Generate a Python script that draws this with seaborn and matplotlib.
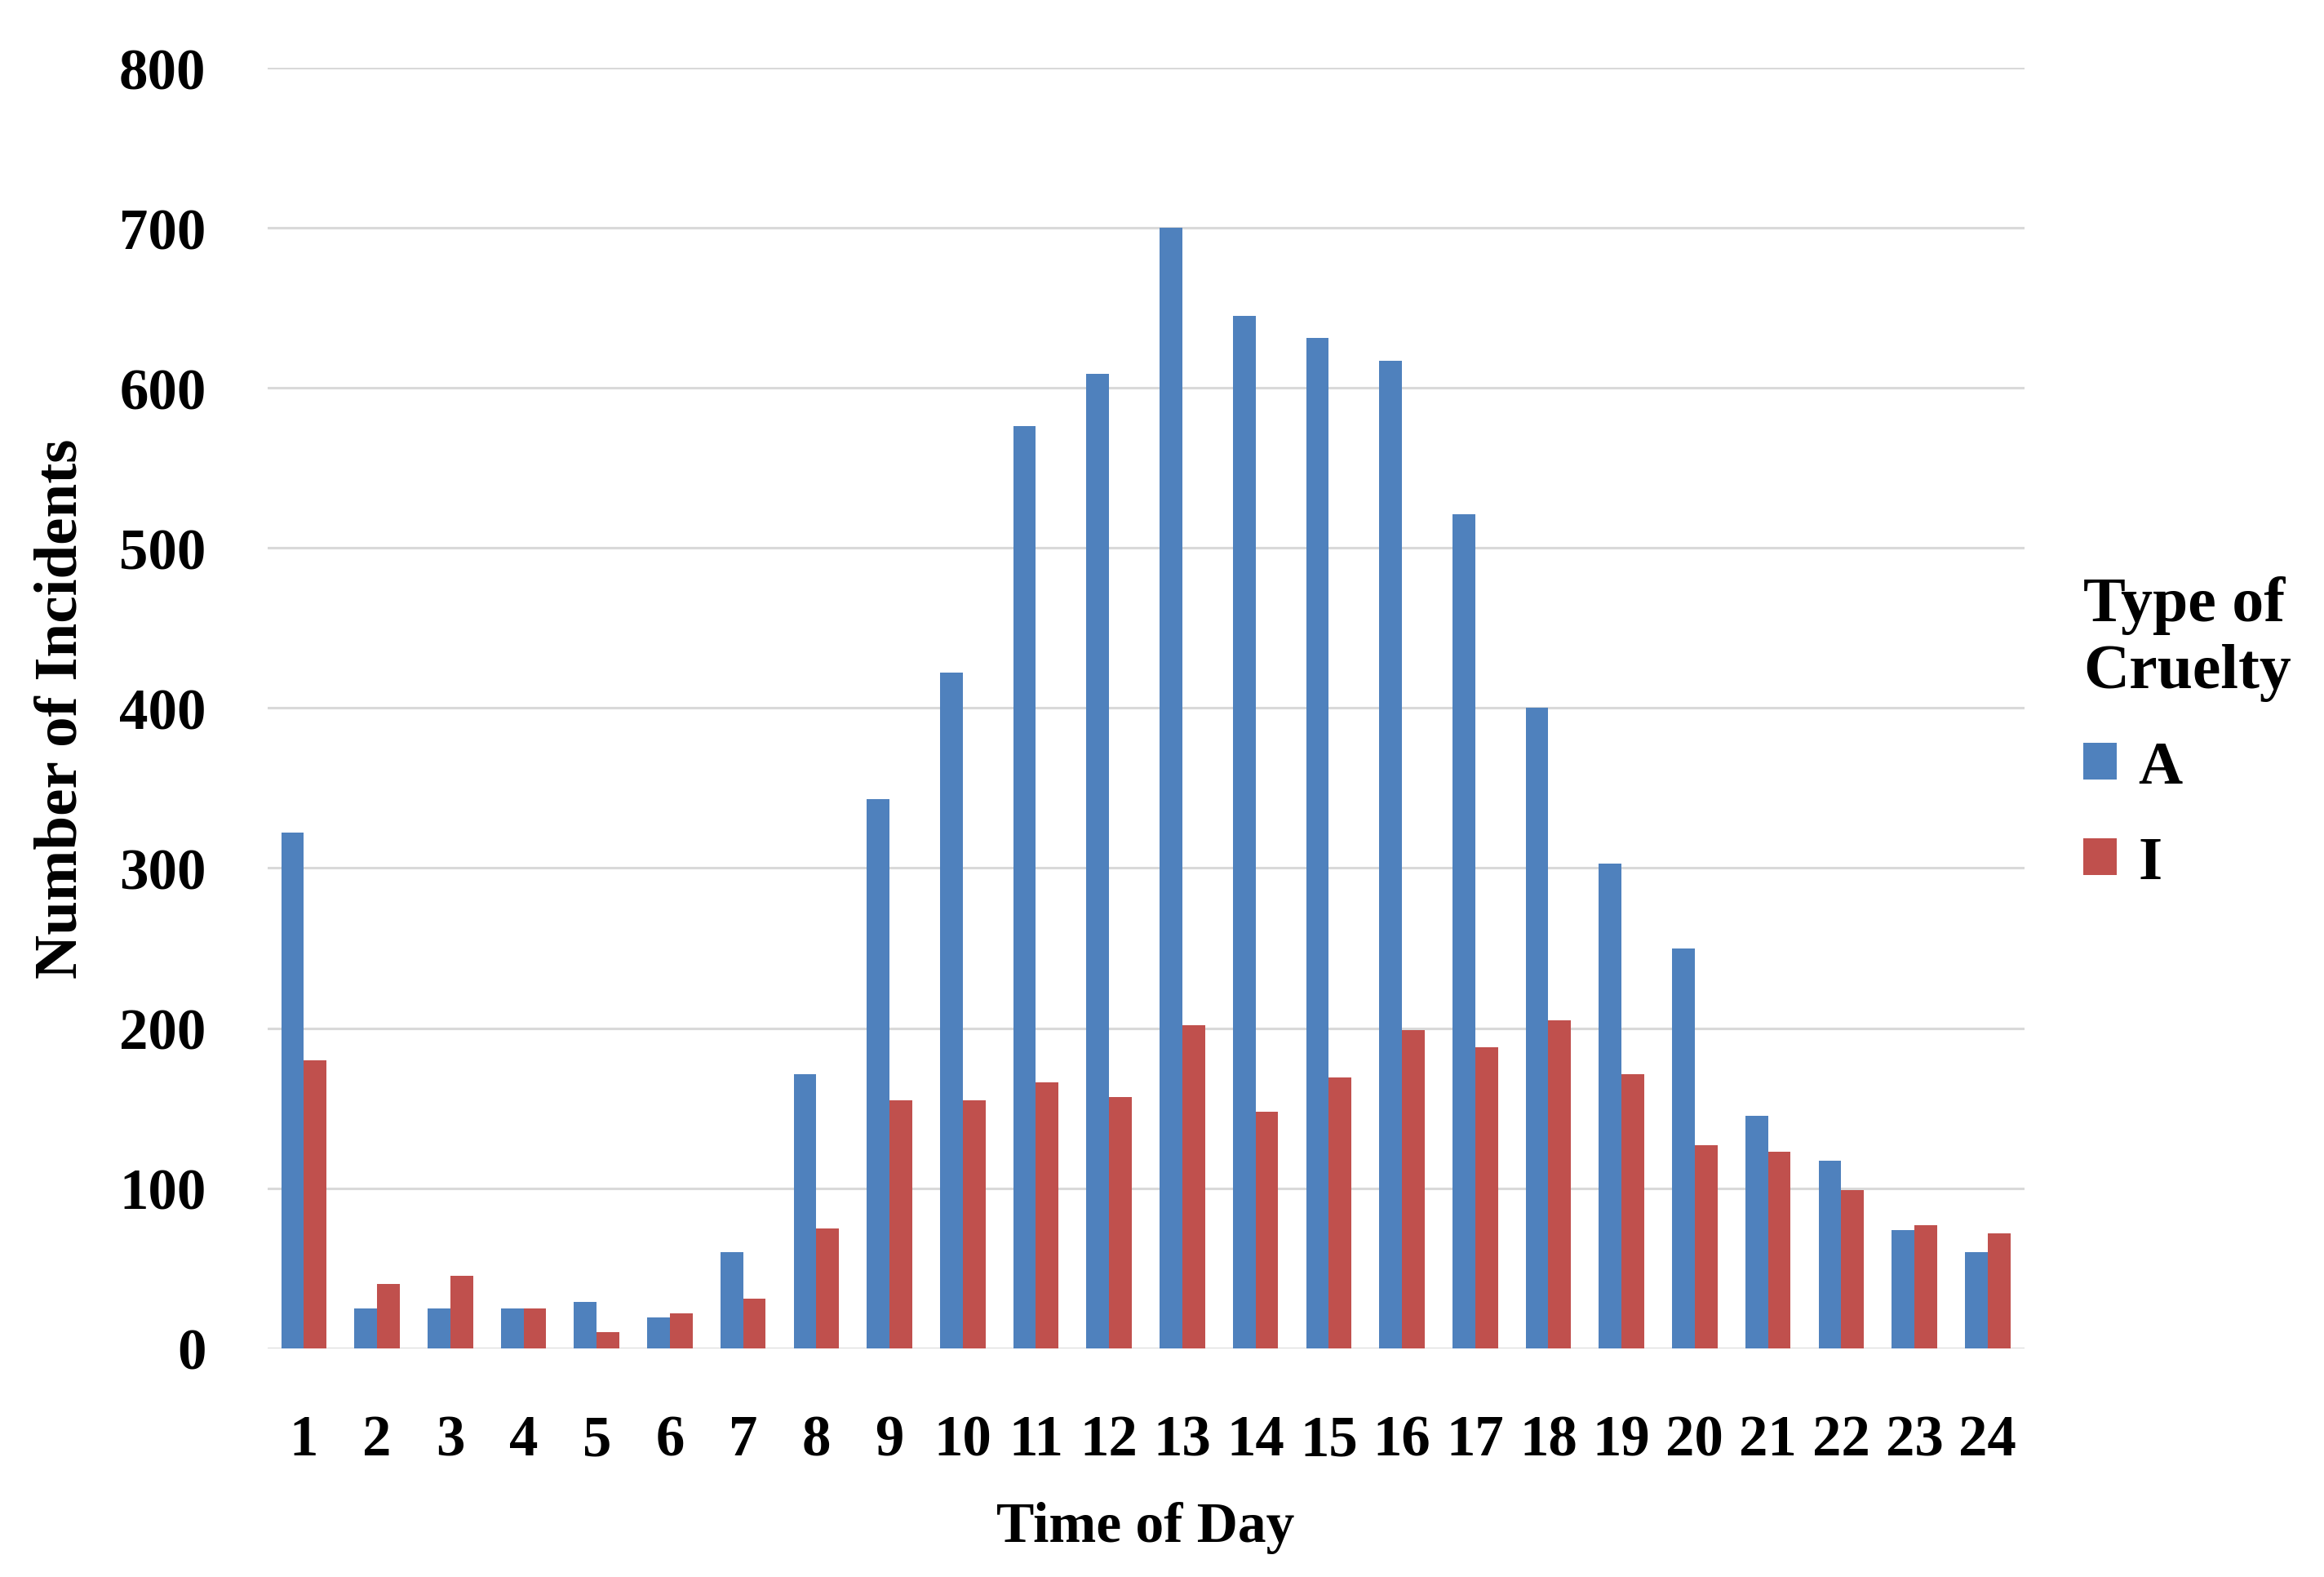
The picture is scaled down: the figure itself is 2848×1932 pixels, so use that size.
"""Incidents by time of day, split by type of cruelty."""

import pandas as pd
import seaborn as sns
import matplotlib.pyplot as plt

hours = list(range(1, 25))
type_a = [322, 25, 25, 25, 29, 19, 60, 171, 343, 422, 576, 609,
          700, 645, 631, 617, 521, 400, 303, 250, 145, 117, 74, 60]
type_i = [180, 40, 45, 25, 10, 22, 31, 75, 155, 155, 166, 157,
          202, 148, 169, 199, 188, 205, 171, 127, 123, 99, 77, 72]
types = ["A", "I"]
colors = ["#4F81BD", "#C0504D"]

# Long format for seaborn
df = pd.DataFrame({
    "hour": [str(h) for h in hours] * 2,
    "count": type_a + type_i,
    "kind": [types[0]] * len(hours) + [types[1]] * len(hours),
})

sns.set_style("white")
plt.rcParams["font.family"] = ["Liberation Serif", "DejaVu Serif"]
plt.rcParams["font.weight"] = "bold"
plt.rcParams["text.color"] = "black"
plt.rcParams["xtick.color"] = "black"
plt.rcParams["ytick.color"] = "black"
plt.rcParams["axes.labelcolor"] = "black"

fig = plt.figure(figsize=(28.48, 19.33), dpi=100)
ax = fig.add_axes([0.115, 0.145, 0.756, 0.8115])

sns.barplot(data=df, x="hour", y="count", hue="kind", palette=colors,
            width=0.62, saturation=1, linewidth=0, ax=ax, legend=True)

ax.set_ylim(0, 800)
ax.set_yticks(range(0, 801, 100))
ax.set_xlim(-0.5, len(hours) - 0.5)
ax.yaxis.grid(True, color="#D9D9D9", linewidth=2.2)
ax.set_axisbelow(True)
sns.despine(ax=ax, left=True, bottom=True)
ax.tick_params(axis="both", length=0, labelsize=51)
ax.tick_params(axis="y", pad=54)
ax.tick_params(axis="x", pad=58)
for lbl in ax.get_xticklabels() + ax.get_yticklabels():
    lbl.set_fontweight("bold")

ax.set_xlabel("Time of Day", fontsize=50, fontweight="bold", labelpad=30)
ax.set_ylabel("Number of Incidents", fontsize=54, fontweight="bold",
              labelpad=26)

# Legend outside on the right
handles, labels = ax.get_legend_handles_labels()
ax.get_legend().remove()
leg = fig.legend(handles, labels, title="Type of\nCruelty",
                 loc="upper left", bbox_to_anchor=(0.878, 0.662),
                 frameon=False, fontsize=54, title_fontsize=56,
                 handlelength=0.55, handleheight=0.55, handletextpad=0.35,
                 labelspacing=0.65, borderpad=0.2, alignment="left")
leg.get_title().set_fontweight("bold")
leg.get_title().set_linespacing(1.2)
for t in leg.get_texts():
    t.set_fontweight("bold")

fig.savefig("out.png", dpi=100)
